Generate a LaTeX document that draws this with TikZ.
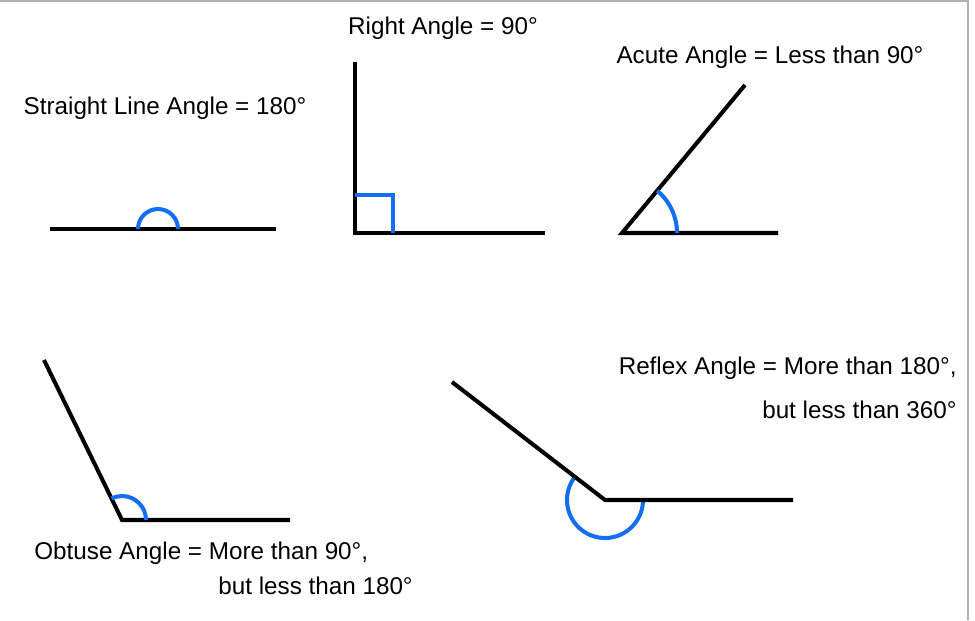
\documentclass[tikz,border=0pt]{standalone}
\usepackage{fontspec}
\setmainfont{Liberation Sans}
\begin{document}
\begin{tikzpicture}[x=0.02cm,y=-0.02cm,
  ln/.style={line width=2.3pt,black},
  mk/.style={line width=2.3pt,color={rgb,255:red,20;green,110;blue,240}},
  lb/.style={font=\fontsize{13.8}{16}\selectfont,inner sep=0pt}]
\useasboundingbox (0,0) rectangle (975,620);
\draw[gray!60,line width=0.6pt] (0,1) -- (968,1) -- (968,620);
% straight
\coordinate (s1) at (50,229); \coordinate (s2) at (276,229);
\draw[ln] (s1) -- (s2);
\draw[mk] (138,229) arc[start angle=180,end angle=360,radius=20];
\node[lb] (ts) at (165,108) {Straight Line Angle = 180°};
% right
\coordinate (r0) at (355,233);
\draw[ln] (355,62) -- (r0) -- (545,233);
\draw[mk] (355,195) -- (393,195) -- (393,233);
\node[lb] (tr) at (443,28) {Right Angle = 90°};
% acute
\coordinate (a0) at (622,233);
\draw[ln] (745,85) -- (a0) -- (778,233);
\draw[mk] (677,233) arc[start angle=0,end angle=-50,radius=55];
\node[lb] (ta) at (770,57) {Acute Angle = Less than 90°};
% obtuse
\coordinate (o0) at (122,520);
\draw[ln] (44,360) -- (o0) -- (290,520);
\draw[mk] (146,520) arc[start angle=0,end angle=-116,radius=24];
\node[lb,anchor=west] (to1) at (34,553) {Obtuse Angle = More than 90°,};
\node[lb,anchor=west] (to2) at (218,586) {but less than 180°};
% reflex
\coordinate (x0) at (605,500);
\draw[mk] (x0) ++(-142:38) arc[start angle=-142,end angle=-360,radius=38];
\draw[ln] (452,382) -- (x0) -- (793,500);
\node[lb,anchor=east] (tx1) at (957,368) {Reflex Angle = More than 180°,};
\node[lb,anchor=east] (tx2) at (957,410) {but less than 360°};
\end{tikzpicture}
\end{document}
